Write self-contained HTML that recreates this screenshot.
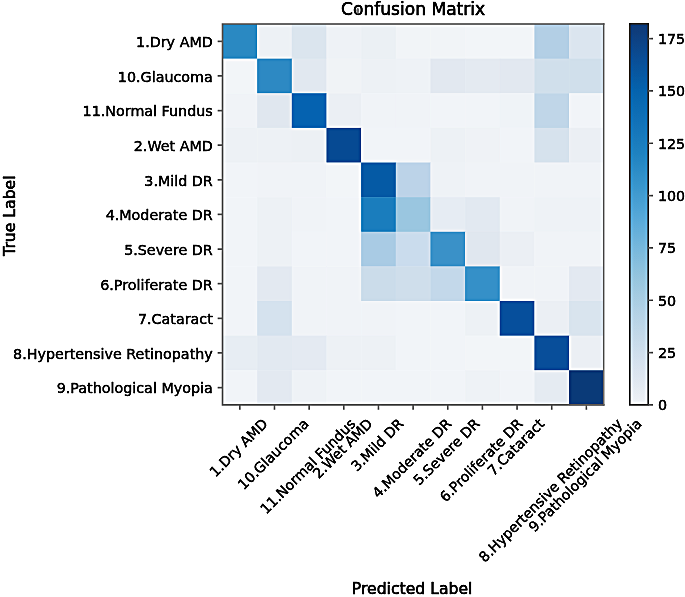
<!DOCTYPE html>
<html><head><meta charset="utf-8"><title>Confusion Matrix</title>
<style>html,body{margin:0;padding:0;background:#fff;}body{width:685px;height:597px;overflow:hidden;}svg{display:block;}</style>
</head><body>
<svg width="685" height="597" viewBox="0 0 685 597">
<defs><linearGradient id="cb" x1="0" y1="0" x2="0" y2="1"><stop offset="0.0000" stop-color="#0e3b78"/><stop offset="0.0220" stop-color="#0f3d7c"/><stop offset="0.0934" stop-color="#0a4e96"/><stop offset="0.1758" stop-color="#0563ad"/><stop offset="0.2582" stop-color="#1272b8"/><stop offset="0.3407" stop-color="#1f82c0"/><stop offset="0.4231" stop-color="#3895cc"/><stop offset="0.5055" stop-color="#56a8d8"/><stop offset="0.5879" stop-color="#77b8dc"/><stop offset="0.6703" stop-color="#97c6de"/><stop offset="0.7527" stop-color="#b2d1e5"/><stop offset="0.8352" stop-color="#c8dbea"/><stop offset="0.8901" stop-color="#d6e2ee"/><stop offset="0.9451" stop-color="#e2e9f1"/><stop offset="0.9835" stop-color="#ecf0f5"/><stop offset="1.0000" stop-color="#eff3f7"/></linearGradient></defs>
<style>text{stroke:#000;stroke-width:0.4px;stroke-linejoin:round}text.big{stroke-width:0.55px}</style>
<rect width="100%" height="100%" fill="#fff"/>
<filter id="usm" filterUnits="userSpaceOnUse" x="0" y="0" width="685" height="597" color-interpolation-filters="sRGB"><feGaussianBlur in="SourceGraphic" stdDeviation="0.5" result="b0"/><feGaussianBlur in="b0" stdDeviation="1.6" result="b1"/><feComposite in="b0" in2="b1" operator="arithmetic" k1="0" k2="1.6" k3="-0.6" k4="0"/></filter>
<g filter="url(#usm)">
<rect x="0" y="0" width="685" height="597" fill="#fff"/>
<rect x="222.50" y="24.00" width="35.05" height="35.03" fill="#2a89c2"/>
<rect x="257.15" y="24.00" width="35.05" height="35.03" fill="#edf1f5"/>
<rect x="291.81" y="24.00" width="35.05" height="35.03" fill="#dbe5ee"/>
<rect x="326.46" y="24.00" width="35.05" height="35.03" fill="#eef2f6"/>
<rect x="361.12" y="24.00" width="35.05" height="35.03" fill="#ebf0f4"/>
<rect x="395.77" y="24.00" width="35.05" height="35.03" fill="#f1f4f7"/>
<rect x="430.43" y="24.00" width="35.05" height="35.03" fill="#f1f4f7"/>
<rect x="465.08" y="24.00" width="35.05" height="35.03" fill="#f2f5f8"/>
<rect x="499.74" y="24.00" width="35.05" height="35.03" fill="#f2f5f8"/>
<rect x="534.39" y="24.00" width="35.05" height="35.03" fill="#b3cfe5"/>
<rect x="569.05" y="24.00" width="35.05" height="35.03" fill="#dbe5ef"/>
<rect x="222.50" y="58.63" width="35.05" height="35.03" fill="#f2f5f8"/>
<rect x="257.15" y="58.63" width="35.05" height="35.03" fill="#2d89c3"/>
<rect x="291.81" y="58.63" width="35.05" height="35.03" fill="#e1e8f0"/>
<rect x="326.46" y="58.63" width="35.05" height="35.03" fill="#f0f3f6"/>
<rect x="361.12" y="58.63" width="35.05" height="35.03" fill="#edf1f5"/>
<rect x="395.77" y="58.63" width="35.05" height="35.03" fill="#eef2f6"/>
<rect x="430.43" y="58.63" width="35.05" height="35.03" fill="#e2e8f0"/>
<rect x="465.08" y="58.63" width="35.05" height="35.03" fill="#e4eaf1"/>
<rect x="499.74" y="58.63" width="35.05" height="35.03" fill="#e2e8f0"/>
<rect x="534.39" y="58.63" width="35.05" height="35.03" fill="#d0dfeb"/>
<rect x="569.05" y="58.63" width="35.05" height="35.03" fill="#d0dfeb"/>
<rect x="222.50" y="93.25" width="35.05" height="35.03" fill="#f0f3f7"/>
<rect x="257.15" y="93.25" width="35.05" height="35.03" fill="#e0e7ef"/>
<rect x="291.81" y="93.25" width="35.05" height="35.03" fill="#0562b0"/>
<rect x="326.46" y="93.25" width="35.05" height="35.03" fill="#ebeff4"/>
<rect x="361.12" y="93.25" width="35.05" height="35.03" fill="#f0f3f7"/>
<rect x="395.77" y="93.25" width="35.05" height="35.03" fill="#f0f3f7"/>
<rect x="430.43" y="93.25" width="35.05" height="35.03" fill="#f1f4f8"/>
<rect x="465.08" y="93.25" width="35.05" height="35.03" fill="#f1f4f8"/>
<rect x="499.74" y="93.25" width="35.05" height="35.03" fill="#eff3f7"/>
<rect x="534.39" y="93.25" width="35.05" height="35.03" fill="#c0d6e8"/>
<rect x="569.05" y="93.25" width="35.05" height="35.03" fill="#f1f4f8"/>
<rect x="222.50" y="127.88" width="35.05" height="35.03" fill="#edf1f5"/>
<rect x="257.15" y="127.88" width="35.05" height="35.03" fill="#edf1f5"/>
<rect x="291.81" y="127.88" width="35.05" height="35.03" fill="#ecf0f4"/>
<rect x="326.46" y="127.88" width="35.05" height="35.03" fill="#064a93"/>
<rect x="361.12" y="127.88" width="35.05" height="35.03" fill="#f1f4f8"/>
<rect x="395.77" y="127.88" width="35.05" height="35.03" fill="#f1f4f8"/>
<rect x="430.43" y="127.88" width="35.05" height="35.03" fill="#edf1f5"/>
<rect x="465.08" y="127.88" width="35.05" height="35.03" fill="#eff2f6"/>
<rect x="499.74" y="127.88" width="35.05" height="35.03" fill="#f1f4f8"/>
<rect x="534.39" y="127.88" width="35.05" height="35.03" fill="#d6e2ed"/>
<rect x="569.05" y="127.88" width="35.05" height="35.03" fill="#ebeff4"/>
<rect x="222.50" y="162.51" width="35.05" height="35.03" fill="#f1f4f8"/>
<rect x="257.15" y="162.51" width="35.05" height="35.03" fill="#f0f3f7"/>
<rect x="291.81" y="162.51" width="35.05" height="35.03" fill="#f0f3f7"/>
<rect x="326.46" y="162.51" width="35.05" height="35.03" fill="#f2f5f8"/>
<rect x="361.12" y="162.51" width="35.05" height="35.03" fill="#055aa5"/>
<rect x="395.77" y="162.51" width="35.05" height="35.03" fill="#bcd3e8"/>
<rect x="430.43" y="162.51" width="35.05" height="35.03" fill="#eef2f6"/>
<rect x="465.08" y="162.51" width="35.05" height="35.03" fill="#f0f3f7"/>
<rect x="499.74" y="162.51" width="35.05" height="35.03" fill="#f0f3f7"/>
<rect x="534.39" y="162.51" width="35.05" height="35.03" fill="#f0f3f7"/>
<rect x="569.05" y="162.51" width="35.05" height="35.03" fill="#f0f3f7"/>
<rect x="222.50" y="197.14" width="35.05" height="35.03" fill="#f1f4f8"/>
<rect x="257.15" y="197.14" width="35.05" height="35.03" fill="#edf1f5"/>
<rect x="291.81" y="197.14" width="35.05" height="35.03" fill="#f0f3f7"/>
<rect x="326.46" y="197.14" width="35.05" height="35.03" fill="#f1f4f8"/>
<rect x="361.12" y="197.14" width="35.05" height="35.03" fill="#1a7dbd"/>
<rect x="395.77" y="197.14" width="35.05" height="35.03" fill="#9ac6e0"/>
<rect x="430.43" y="197.14" width="35.05" height="35.03" fill="#e6ecf3"/>
<rect x="465.08" y="197.14" width="35.05" height="35.03" fill="#e2e9f1"/>
<rect x="499.74" y="197.14" width="35.05" height="35.03" fill="#f0f3f7"/>
<rect x="534.39" y="197.14" width="35.05" height="35.03" fill="#eef2f6"/>
<rect x="569.05" y="197.14" width="35.05" height="35.03" fill="#eef2f6"/>
<rect x="222.50" y="231.76" width="35.05" height="35.03" fill="#f1f4f8"/>
<rect x="257.15" y="231.76" width="35.05" height="35.03" fill="#edf1f5"/>
<rect x="291.81" y="231.76" width="35.05" height="35.03" fill="#f1f4f8"/>
<rect x="326.46" y="231.76" width="35.05" height="35.03" fill="#f1f4f8"/>
<rect x="361.12" y="231.76" width="35.05" height="35.03" fill="#a9cbe4"/>
<rect x="395.77" y="231.76" width="35.05" height="35.03" fill="#cadced"/>
<rect x="430.43" y="231.76" width="35.05" height="35.03" fill="#3a91c8"/>
<rect x="465.08" y="231.76" width="35.05" height="35.03" fill="#e0e7ef"/>
<rect x="499.74" y="231.76" width="35.05" height="35.03" fill="#ebeff4"/>
<rect x="534.39" y="231.76" width="35.05" height="35.03" fill="#f0f3f7"/>
<rect x="569.05" y="231.76" width="35.05" height="35.03" fill="#f0f3f7"/>
<rect x="222.50" y="266.39" width="35.05" height="35.03" fill="#f1f4f8"/>
<rect x="257.15" y="266.39" width="35.05" height="35.03" fill="#e3e9f1"/>
<rect x="291.81" y="266.39" width="35.05" height="35.03" fill="#f0f3f7"/>
<rect x="326.46" y="266.39" width="35.05" height="35.03" fill="#f0f3f7"/>
<rect x="361.12" y="266.39" width="35.05" height="35.03" fill="#cbdcea"/>
<rect x="395.77" y="266.39" width="35.05" height="35.03" fill="#cfdeeb"/>
<rect x="430.43" y="266.39" width="35.05" height="35.03" fill="#c3d8ea"/>
<rect x="465.08" y="266.39" width="35.05" height="35.03" fill="#3590c8"/>
<rect x="499.74" y="266.39" width="35.05" height="35.03" fill="#f0f3f7"/>
<rect x="534.39" y="266.39" width="35.05" height="35.03" fill="#f0f3f7"/>
<rect x="569.05" y="266.39" width="35.05" height="35.03" fill="#e3e9f1"/>
<rect x="222.50" y="301.02" width="35.05" height="35.03" fill="#f1f4f8"/>
<rect x="257.15" y="301.02" width="35.05" height="35.03" fill="#d5e2ee"/>
<rect x="291.81" y="301.02" width="35.05" height="35.03" fill="#f0f3f7"/>
<rect x="326.46" y="301.02" width="35.05" height="35.03" fill="#f0f3f7"/>
<rect x="361.12" y="301.02" width="35.05" height="35.03" fill="#f0f3f7"/>
<rect x="395.77" y="301.02" width="35.05" height="35.03" fill="#f1f4f8"/>
<rect x="430.43" y="301.02" width="35.05" height="35.03" fill="#f1f4f8"/>
<rect x="465.08" y="301.02" width="35.05" height="35.03" fill="#edf1f5"/>
<rect x="499.74" y="301.02" width="35.05" height="35.03" fill="#064f9c"/>
<rect x="534.39" y="301.02" width="35.05" height="35.03" fill="#ebeff4"/>
<rect x="569.05" y="301.02" width="35.05" height="35.03" fill="#d9e4ee"/>
<rect x="222.50" y="335.65" width="35.05" height="35.03" fill="#e7edf3"/>
<rect x="257.15" y="335.65" width="35.05" height="35.03" fill="#e2e9f1"/>
<rect x="291.81" y="335.65" width="35.05" height="35.03" fill="#e4eaf2"/>
<rect x="326.46" y="335.65" width="35.05" height="35.03" fill="#edf1f5"/>
<rect x="361.12" y="335.65" width="35.05" height="35.03" fill="#edf1f5"/>
<rect x="395.77" y="335.65" width="35.05" height="35.03" fill="#f1f4f8"/>
<rect x="430.43" y="335.65" width="35.05" height="35.03" fill="#f1f4f8"/>
<rect x="465.08" y="335.65" width="35.05" height="35.03" fill="#f2f5f8"/>
<rect x="499.74" y="335.65" width="35.05" height="35.03" fill="#f2f5f8"/>
<rect x="534.39" y="335.65" width="35.05" height="35.03" fill="#084e9a"/>
<rect x="569.05" y="335.65" width="35.05" height="35.03" fill="#ebeff4"/>
<rect x="222.50" y="370.27" width="35.05" height="35.03" fill="#f1f4f8"/>
<rect x="257.15" y="370.27" width="35.05" height="35.03" fill="#e3e9f1"/>
<rect x="291.81" y="370.27" width="35.05" height="35.03" fill="#eef2f6"/>
<rect x="326.46" y="370.27" width="35.05" height="35.03" fill="#f1f4f8"/>
<rect x="361.12" y="370.27" width="35.05" height="35.03" fill="#f1f4f8"/>
<rect x="395.77" y="370.27" width="35.05" height="35.03" fill="#f1f4f8"/>
<rect x="430.43" y="370.27" width="35.05" height="35.03" fill="#f1f4f8"/>
<rect x="465.08" y="370.27" width="35.05" height="35.03" fill="#eef2f6"/>
<rect x="499.74" y="370.27" width="35.05" height="35.03" fill="#f1f4f8"/>
<rect x="534.39" y="370.27" width="35.05" height="35.03" fill="#e5ebf2"/>
<rect x="569.05" y="370.27" width="35.05" height="35.03" fill="#0a3a78"/>
<path d="M222.50 24.00H603.70M222.50 24.00V404.90M222.50 404.90H603.70" fill="none" stroke="#606060" stroke-width="1.7" stroke-linecap="square"/>
<path d="M603.70 24.00V404.90" fill="none" stroke="#707070" stroke-width="1.5" stroke-linecap="square"/>
<path d="M239.83 404.90V409.76M222.50 41.31H217.64M274.48 404.90V409.76M222.50 75.94H217.64M309.14 404.90V409.76M222.50 110.57H217.64M343.79 404.90V409.76M222.50 145.20H217.64M378.45 404.90V409.76M222.50 179.82H217.64M413.10 404.90V409.76M222.50 214.45H217.64M447.75 404.90V409.76M222.50 249.08H217.64M482.41 404.90V409.76M222.50 283.70H217.64M517.06 404.90V409.76M222.50 318.33H217.64M551.72 404.90V409.76M222.50 352.96H217.64M586.37 404.90V409.76M222.50 387.59H217.64" stroke="#606060" stroke-width="1.7" fill="none"/>
<g font-family="DejaVu Sans, sans-serif" font-size="14.3" fill="#000">
<text x="212.78" y="47.21" text-anchor="end">1.Dry AMD</text>
<text x="212.78" y="81.84" text-anchor="end">10.Glaucoma</text>
<text x="212.78" y="116.47" text-anchor="end">11.Normal Fundus</text>
<text x="212.78" y="151.10" text-anchor="end">2.Wet AMD</text>
<text x="212.78" y="185.72" text-anchor="end">3.Mild DR</text>
<text x="212.78" y="220.35" text-anchor="end">4.Moderate DR</text>
<text x="212.78" y="254.98" text-anchor="end">5.Severe DR</text>
<text x="212.78" y="289.60" text-anchor="end">6.Proliferate DR</text>
<text x="212.78" y="324.23" text-anchor="end">7.Cataract</text>
<text x="212.78" y="358.86" text-anchor="end">8.Hypertensive Retinopathy</text>
<text x="212.78" y="393.49" text-anchor="end">9.Pathological Myopia</text>
<text transform="translate(239.23 448.35) rotate(-45)" x="0" y="4.03" text-anchor="middle" font-size="14.0">1.Dry AMD</text>
<text transform="translate(273.88 454.67) rotate(-45)" x="0" y="4.03" text-anchor="middle" font-size="14.0">10.Glaucoma</text>
<text transform="translate(308.54 466.87) rotate(-45)" x="0" y="4.03" text-anchor="middle" font-size="14.0">11.Normal Fundus</text>
<text transform="translate(343.19 449.16) rotate(-45)" x="0" y="4.03" text-anchor="middle" font-size="14.0">2.Wet AMD</text>
<text transform="translate(377.85 445.52) rotate(-45)" x="0" y="4.03" text-anchor="middle" font-size="14.0">3.Mild DR</text>
<text transform="translate(412.50 458.90) rotate(-45)" x="0" y="4.03" text-anchor="middle" font-size="14.0">4.Moderate DR</text>
<text transform="translate(447.15 452.49) rotate(-45)" x="0" y="4.03" text-anchor="middle" font-size="14.0">5.Severe DR</text>
<text transform="translate(481.81 460.80) rotate(-45)" x="0" y="4.03" text-anchor="middle" font-size="14.0">6.Proliferate DR</text>
<text transform="translate(516.46 447.73) rotate(-45)" x="0" y="4.03" text-anchor="middle" font-size="14.0">7.Cataract</text>
<text transform="translate(551.12 490.96) rotate(-45)" x="0" y="4.03" text-anchor="middle" font-size="14.0">8.Hypertensive Retinopathy</text>
<text transform="translate(585.77 475.84) rotate(-45)" x="0" y="4.03" text-anchor="middle" font-size="14.0">9.Pathological Myopia</text>
</g>
<text x="413.10" y="14.6" text-anchor="middle" font-family="DejaVu Sans, sans-serif" font-size="17.09" class="big">Confusion Matrix</text>
<ellipse cx="357.7" cy="10.6" rx="1.5" ry="2.9" fill="#707070"/>
<text x="412.10" y="594.2" text-anchor="middle" font-family="DejaVu Sans, sans-serif" font-size="15.66" class="big">Predicted Label</text>
<text transform="translate(15.0 215.65) rotate(-90)" x="0" y="0" text-anchor="middle" font-family="DejaVu Sans, sans-serif" font-size="15.66" class="big">True Label</text>
<rect x="629.8" y="23.8" width="18.40" height="381.10" fill="url(#cb)" stroke="#383838" stroke-width="1.7"/>
<text x="657.92" y="410.20" font-family="DejaVu Sans, sans-serif" font-size="14.3">0</text>
<text x="657.92" y="357.87" font-family="DejaVu Sans, sans-serif" font-size="14.3">25</text>
<text x="657.92" y="305.54" font-family="DejaVu Sans, sans-serif" font-size="14.3">50</text>
<text x="657.92" y="253.21" font-family="DejaVu Sans, sans-serif" font-size="14.3">75</text>
<text x="657.92" y="200.89" font-family="DejaVu Sans, sans-serif" font-size="14.3">100</text>
<text x="657.92" y="148.56" font-family="DejaVu Sans, sans-serif" font-size="14.3">125</text>
<text x="657.92" y="96.23" font-family="DejaVu Sans, sans-serif" font-size="14.3">150</text>
<text x="657.92" y="43.90" font-family="DejaVu Sans, sans-serif" font-size="14.3">175</text>
<path d="M648.20 404.90H653.06M648.20 352.57H653.06M648.20 300.24H653.06M648.20 247.91H653.06M648.20 195.59H653.06M648.20 143.26H653.06M648.20 90.93H653.06M648.20 38.60H653.06" stroke="#606060" stroke-width="1.7" fill="none"/>
</g>
</svg>
</body></html>
